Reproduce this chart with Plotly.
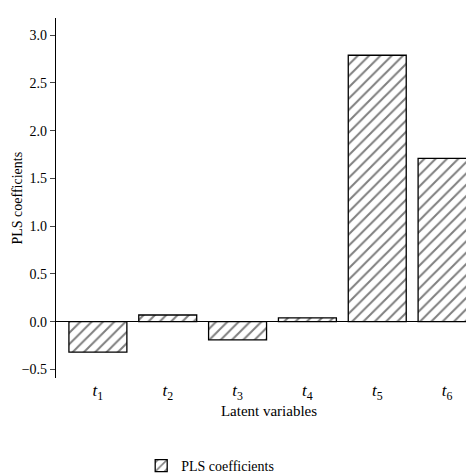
import plotly.graph_objects as go

categories = ["t1", "t2", "t3", "t4", "t5", "t6"]
tick_labels = [f"<i>t</i><sub>{i}</sub>" for i in range(1, 7)]
values = [-0.32, 0.07, -0.19, 0.04, 2.79, 1.71]

fig = go.Figure()
fig.add_trace(go.Bar(
    x=categories, y=values, name="PLS coefficients", width=0.83,
    marker=dict(color="white", line=dict(color="black", width=1.3),
                pattern=dict(shape="/", fgcolor="black", size=8, solidity=0.25)),
))
fig.update_layout(
    width=474, height=474, paper_bgcolor="white", plot_bgcolor="white",
    margin=dict(l=48, r=0, t=10, b=104),
    font=dict(family="Liberation Serif", size=14, color="black"),
    showlegend=True,
    legend=dict(x=0.2, y=-0.2, xanchor="left", yanchor="top", font=dict(size=14),
                itemwidth=30),
    xaxis=dict(range=[-0.6, 5.5], tickmode="array", tickvals=categories, ticktext=tick_labels,
               showline=False, ticks="", automargin=False,
               title=dict(text="Latent variables", standoff=0, font=dict(size=15)),
               tickfont=dict(size=17)),
    yaxis=dict(range=[-0.59, 3.18], tickvals=[-0.5, 0, 0.5, 1, 1.5, 2, 2.5, 3],
               ticktext=["−0.5", "0.0", "0.5", "1.0", "1.5", "2.0", "2.5", "3.0"],
               showline=True, linecolor="black", linewidth=1.3, ticks="outside",
               ticklen=5, showgrid=False, zeroline=True, zerolinecolor="black",
               zerolinewidth=1.3, automargin=False, tickfont=dict(size=14)),
    annotations=[dict(text="PLS coefficients", textangle=-90, xref="paper", yref="paper",
                      x=-0.115, y=0.5, xanchor="left", yanchor="middle", showarrow=False,
                      font=dict(size=14))],
)
fig.write_html("out.html")
